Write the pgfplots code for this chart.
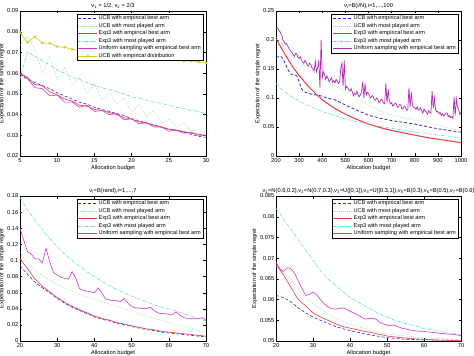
\documentclass[border=0pt]{standalone}
\usepackage{pgfplots}
\pgfplotsset{compat=1.18}
\usepackage{fontspec}
\setmainfont{Liberation Sans}
\definecolor{cB}{rgb}{0.15,0.15,0.9}
\definecolor{cG}{rgb}{0.55,0.88,0.55}
\definecolor{cR}{rgb}{0.95,0.2,0.25}
\definecolor{cC}{rgb}{0.35,0.85,0.85}
\definecolor{cM}{rgb}{0.82,0.2,0.82}
\definecolor{cY}{rgb}{0.82,0.82,0.15}
\pgfplotsset{
  every axis title shift=0pt,
  myax/.style={
    scale only axis, anchor=south west,
    font=\fontsize{5.7}{6.5}\selectfont,
    /pgf/number format/assume math mode=true,
    /pgf/number format/1000 sep={},
    tick align=inside, major tick length=2.5pt,
    tick style={black, line width=0.3pt},
    axis line style={line width=0.4pt},
    scaled y ticks=false,
    yticklabel style={/pgf/number format/fixed,/pgf/number format/precision=3, inner sep=1.5pt},
    xticklabel style={inner sep=1.5pt, yshift=-1pt},
    xlabel={Allocation budget}, ylabel={Expectation of the simple regret},
    xlabel style={inner sep=1pt},
    ylabel style={inner sep=1pt},
    title style={at={(0.5,1)}, anchor=south, inner sep=1pt, yshift=1pt},
    legend cell align=left,
    legend style={at={(0.985,0.98)}, anchor=north east, draw=black, line width=0.6pt,
      font=\fontsize{5.6}{6}\selectfont, inner xsep=1pt, inner ysep=0.5pt,
      nodes={inner sep=1pt}},
    legend image code/.code={\draw[mark repeat=2,mark phase=2,##1] plot coordinates {(0cm,0cm) (0.33cm,0cm) (0.66cm,0cm)};},
  },
  sB/.style={cB, line width=0.6pt, dash pattern=on 3pt off 2pt},
  sG/.style={cG, line width=0.6pt, dash pattern=on 0.7pt off 1.3pt},
  sR/.style={cR, line width=0.6pt},
  sC/.style={cC, line width=0.6pt, dash pattern=on 3pt off 1.3pt on 0.7pt off 1.3pt},
  sM/.style={cM, line width=0.6pt},
}
\begin{document}
\begin{tikzpicture}[x=1pt,y=1pt]
\path[use as bounding box] (0,0) rectangle (474,356);
% ---------------- top left
\begin{axis}[myax, at={(20pt,200pt)}, width=186pt, height=145pt,
  xmin=5, xmax=30, ymin=0.02, ymax=0.09,
  xtick={5,10,...,30}, ytick={0.02,0.03,...,0.09},
  title={ν\textsubscript{1} = 1/2, ν\textsubscript{2} = 2/3}]
\addplot[sB] coordinates {(5,0.0595)(6,0.057)(7,0.0555)(8,0.054)(9,0.0525)(10,0.0505)(11,0.049)(12,0.0475)(13,0.046)(14,0.045)(15,0.0435)(16,0.0425)(17,0.0415)(18,0.0405)(19,0.0395)(20,0.038)(21,0.037)(22,0.036)(23,0.035)(24,0.034)(25,0.033)(26,0.0325)(27,0.0315)(28,0.0305)(29,0.0295)(30,0.029)};
\addlegendentry{UCB with empirical best arm}
\addplot[sG] coordinates {(5,0.0735)(6,0.078)(7,0.072)(8,0.060)(9,0.068)(10,0.057)(11,0.063)(12,0.054)(13,0.058)(14,0.050)(15,0.055)(16,0.047)(17,0.051)(18,0.045)(19,0.048)(20,0.041)(21,0.045)(22,0.039)(23,0.042)(24,0.036)(25,0.038)(26,0.034)(27,0.036)(28,0.032)(29,0.033)(30,0.031)};
\addlegendentry{UCB with most played arm}
\addplot[sR] coordinates {(5,0.060)(6,0.058)(7,0.0545)(8,0.054)(9,0.051)(10,0.0495)(11,0.0475)(12,0.0465)(13,0.0445)(14,0.044)(15,0.0425)(16,0.042)(17,0.041)(18,0.040)(19,0.0385)(20,0.0378)(21,0.0365)(22,0.036)(23,0.0348)(24,0.034)(25,0.033)(26,0.0325)(27,0.0318)(28,0.031)(29,0.0305)(30,0.030)};
\addlegendentry{Exp3 with empirical best arm}
\addplot[sC] coordinates {(5,0.057)(6,0.0705)(7,0.068)(8,0.066)(9,0.064)(10,0.0615)(11,0.060)(12,0.058)(13,0.057)(14,0.0555)(15,0.054)(16,0.053)(17,0.052)(18,0.051)(19,0.050)(20,0.0485)(21,0.048)(22,0.047)(23,0.046)(24,0.0455)(25,0.0445)(26,0.0435)(27,0.043)(28,0.042)(29,0.0415)(30,0.040)};
\addlegendentry{Exp3 with most played arm}
\addplot[sM] coordinates {(5,0.0595)(6,0.0575)(7,0.053)(8,0.0525)(9,0.049)(10,0.0495)(11,0.046)(12,0.046)(13,0.0435)(14,0.0445)(15,0.0415)(16,0.042)(17,0.040)(18,0.0405)(19,0.0375)(20,0.038)(21,0.0355)(22,0.036)(23,0.034)(24,0.034)(25,0.032)(26,0.0325)(27,0.031)(28,0.0315)(29,0.030)(30,0.030)};
\addlegendentry{Uniform sampling with empirical best arm}
\addplot[cY, line width=0.7pt, mark=*, mark size=1pt, mark options={solid}] coordinates {(5,0.0797)(6,0.0749)(7,0.0776)(8,0.0746)(9,0.0744)(10,0.0728)(11,0.0725)(12,0.0715)(13,0.0709)(14,0.0703)(15,0.0696)(16,0.0691)(17,0.0687)(18,0.0683)(19,0.0678)(20,0.0675)(21,0.0672)(22,0.0671)(23,0.0664)(24,0.0671)(25,0.0669)(26,0.0669)(27,0.0658)(28,0.0658)(29,0.0654)(30,0.0648)};
\addlegendentry{UCB with empirical distribution}
\end{axis}
% ---------------- top right
\begin{axis}[myax, at={(276pt,200pt)}, width=185pt, height=145pt,
  xmin=200, xmax=1000, ymin=0, ymax=0.25,
  xtick={200,300,...,1000}, ytick={0,0.05,...,0.25},
  title={ν\textsubscript{i}=B(i/N),i=1,...,100}]
\addplot[sB, line width=0.8pt] coordinates {(200,0.170)(210,0.171)(220,0.172)(230,0.168)(240,0.160)(250,0.150)(260,0.143)(270,0.140)(280,0.140)(290,0.138)(300,0.128)(310,0.116)(320,0.111)(340,0.108)(360,0.106)(380,0.105)(400,0.103)(420,0.100)(440,0.098)(460,0.096)(480,0.092)(500,0.088)(520,0.084)(540,0.081)(560,0.077)(580,0.074)(600,0.070)(625,0.068)(650,0.065)(675,0.063)(700,0.061)(750,0.058)(800,0.055)(850,0.051)(900,0.047)(950,0.044)(1000,0.041)};
\addlegendentry{UCB with empirical best arm}
\addplot[sG] coordinates {(200,0.205)(225,0.193)(250,0.180)(275,0.170)(300,0.162)(325,0.155)(350,0.148)(375,0.142)(400,0.135)(425,0.128)(450,0.122)(475,0.117)(500,0.112)(550,0.100)(600,0.088)(650,0.078)(700,0.070)(750,0.066)(800,0.062)(850,0.058)(900,0.053)(950,0.048)(1000,0.044)};
\addlegendentry{UCB with most played arm}
\addplot[sR, line width=1pt] coordinates {(200,0.202)(225,0.185)(250,0.168)(275,0.152)(300,0.139)(325,0.127)(350,0.116)(375,0.106)(400,0.097)(450,0.083)(500,0.072)(550,0.063)(600,0.055)(650,0.049)(700,0.044)(750,0.040)(800,0.036)(850,0.032)(900,0.029)(950,0.026)(1000,0.023)};
\addlegendentry{Exp3 with empirical best arm}
\addplot[sC] coordinates {(200,0.125)(225,0.115)(250,0.107)(275,0.100)(300,0.095)(350,0.085)(400,0.077)(450,0.070)(500,0.064)(550,0.059)(600,0.055)(650,0.051)(700,0.048)(750,0.044)(800,0.041)(850,0.039)(900,0.036)(950,0.034)(1000,0.031)};
\addlegendentry{Exp3 with most played arm}
\addplot[sM, line width=0.7pt, cM!85!black] coordinates {(200,0.220)(205,0.222)(210,0.218)(215,0.216)(220,0.212)(225,0.208)(230,0.200)(235,0.197)(240,0.193)(245,0.194)(250,0.190)(255,0.186)(260,0.183)(265,0.180)(270,0.178)(275,0.174)(280,0.172)(285,0.177)(290,0.176)(295,0.170)(300,0.168)(305,0.171)(310,0.165)(315,0.162)(320,0.160)(325,0.165)(330,0.162)(335,0.157)(340,0.155)(345,0.160)(350,0.158)(355,0.152)(360,0.150)(365,0.147)(370,0.163)(375,0.145)(380,0.152)(385,0.165)(390,0.118)(395,0.200)(400,0.135)(405,0.145)(410,0.140)(415,0.132)(420,0.138)(425,0.134)(430,0.128)(435,0.131)(440,0.135)(445,0.127)(450,0.130)(455,0.126)(460,0.132)(465,0.129)(470,0.125)(475,0.128)(480,0.150)(485,0.160)(490,0.120)(495,0.165)(500,0.115)(505,0.120)(510,0.118)(515,0.114)(520,0.112)(525,0.116)(530,0.110)(535,0.104)(540,0.108)(545,0.106)(550,0.112)(555,0.105)(560,0.102)(565,0.106)(570,0.110)(575,0.128)(580,0.100)(585,0.125)(590,0.105)(595,0.110)(600,0.108)(605,0.103)(610,0.100)(615,0.104)(620,0.103)(625,0.097)(630,0.096)(635,0.100)(640,0.098)(645,0.092)(650,0.094)(655,0.098)(660,0.096)(665,0.091)(670,0.090)(675,0.125)(680,0.092)(685,0.115)(690,0.095)(695,0.090)(700,0.092)(705,0.086)(710,0.088)(715,0.091)(720,0.090)(725,0.084)(730,0.085)(735,0.089)(740,0.087)(745,0.081)(750,0.082)(755,0.086)(760,0.084)(765,0.079)(770,0.080)(775,0.118)(780,0.085)(785,0.110)(790,0.088)(795,0.084)(800,0.083)(805,0.080)(810,0.085)(815,0.079)(820,0.080)(825,0.083)(830,0.078)(835,0.074)(840,0.081)(845,0.077)(850,0.076)(855,0.072)(860,0.078)(865,0.075)(870,0.074)(875,0.112)(880,0.082)(885,0.100)(890,0.080)(895,0.076)(900,0.077)(905,0.073)(910,0.075)(915,0.070)(920,0.073)(925,0.069)(930,0.071)(935,0.074)(940,0.074)(945,0.068)(950,0.070)(955,0.066)(960,0.068)(965,0.065)(970,0.102)(975,0.070)(980,0.098)(985,0.085)(990,0.080)(995,0.072)(1000,0.075)};
\addlegendentry{Uniform sampling with empirical best arm}
\end{axis}
% ---------------- bottom left
\begin{axis}[myax, at={(20pt,15pt)}, width=186pt, height=145pt,
  xmin=20, xmax=70, ymin=0, ymax=0.18,
  xtick={20,30,...,70}, ytick={0,0.02,...,0.18},
  title={ν\textsubscript{i}=B(rand),i=1,...,7}]
\addplot[sB] coordinates {(20,0.093)(22,0.083)(24,0.073)(26,0.066)(28,0.060)(30,0.053)(32,0.047)(34,0.042)(36,0.038)(38,0.034)(40,0.030)(42,0.027)(44,0.025)(46,0.022)(48,0.020)(50,0.018)(52,0.016)(54,0.014)(56,0.013)(58,0.011)(60,0.010)(62,0.009)(64,0.008)(66,0.007)(68,0.006)(70,0.005)};
\addlegendentry{UCB with empirical best arm}
\addplot[sG] coordinates {(20,0.110)(22,0.097)(24,0.088)(26,0.081)(28,0.076)(30,0.070)(32,0.066)(34,0.062)(36,0.058)(38,0.055)(40,0.052)(42,0.049)(44,0.046)(46,0.043)(48,0.040)(50,0.037)(52,0.034)(54,0.031)(56,0.028)(58,0.026)(60,0.023)(62,0.020)(64,0.018)(66,0.016)(68,0.013)(70,0.011)};
\addlegendentry{UCB with most played arm}
\addplot[sR] coordinates {(20,0.102)(22,0.090)(24,0.077)(26,0.068)(28,0.061)(30,0.054)(32,0.048)(34,0.043)(36,0.039)(38,0.035)(40,0.031)(42,0.028)(44,0.026)(46,0.023)(48,0.021)(50,0.019)(52,0.017)(54,0.015)(56,0.014)(58,0.012)(60,0.011)(62,0.010)(64,0.009)(66,0.008)(68,0.007)(70,0.006)};
\addlegendentry{Exp3 with empirical best arm}
\addplot[sC] coordinates {(20,0.178)(22,0.163)(24,0.150)(26,0.138)(28,0.127)(30,0.117)(32,0.108)(34,0.100)(36,0.093)(38,0.086)(40,0.080)(42,0.074)(44,0.069)(46,0.064)(48,0.060)(50,0.056)(52,0.052)(54,0.049)(56,0.045)(58,0.042)(60,0.040)(62,0.037)(64,0.034)(66,0.031)(68,0.028)(70,0.025)};
\addlegendentry{Exp3 with most played arm}
\addplot[sM] coordinates {(20,0.140)(21,0.125)(22,0.111)(23,0.108)(24,0.102)(25,0.102)(26,0.097)(27,0.115)(28,0.098)(29,0.085)(30,0.082)(31,0.079)(32,0.078)(33,0.077)(34,0.086)(35,0.078)(36,0.065)(37,0.063)(38,0.062)(39,0.061)(40,0.060)(41,0.066)(42,0.060)(43,0.052)(44,0.051)(45,0.050)(46,0.050)(47,0.049)(48,0.053)(49,0.047)(50,0.043)(51,0.041)(52,0.041)(53,0.040)(54,0.040)(55,0.042)(56,0.038)(57,0.035)(58,0.034)(59,0.034)(60,0.033)(61,0.033)(62,0.036)(63,0.032)(64,0.029)(65,0.028)(66,0.028)(67,0.028)(68,0.028)(69,0.029)(70,0.026)};
\addlegendentry{Uniform sampling with empirical best arm}
\end{axis}
% ---------------- bottom right
\begin{axis}[myax, at={(276pt,15pt)}, width=185pt, height=145pt,
  xmin=20, xmax=70, ymin=0.05, ymax=0.085,
  xtick={20,30,...,70}, ytick={0.05,0.055,...,0.086},
  title={ν\textsubscript{1}=N(0.6,0.2),ν\textsubscript{2}=N(0.7,0.3),ν\textsubscript{3}=U([0,1]),ν\textsubscript{4}=U([0.3,1]),ν\textsubscript{5}=B(0.3),ν\textsubscript{6}=B(0.5),ν\textsubscript{7}=B(0.6)}]
\addplot[sB] coordinates {(20,0.061)(22,0.0605)(24,0.0595)(26,0.058)(28,0.0568)(30,0.0558)(32,0.055)(34,0.0543)(36,0.0535)(38,0.053)(40,0.0525)(42,0.0521)(44,0.0517)(46,0.0514)(48,0.0511)(50,0.0508)(55,0.0504)(60,0.0503)(65,0.0502)(70,0.0502)};
\addlegendentry{UCB with empirical best arm}
\addplot[sG] coordinates {(20,0.068)(22,0.0665)(24,0.065)(26,0.0625)(28,0.0605)(30,0.059)(32,0.0578)(34,0.0565)(36,0.0555)(38,0.0548)(40,0.054)(42,0.0535)(44,0.0529)(46,0.0524)(48,0.052)(50,0.0517)(55,0.0512)(60,0.0508)(65,0.0505)(70,0.0503)};
\addlegendentry{UCB with most played arm}
\addplot[sR] coordinates {(20,0.0685)(22,0.066)(24,0.063)(26,0.060)(28,0.0585)(30,0.0568)(32,0.0558)(34,0.055)(36,0.0542)(38,0.0535)(40,0.0531)(42,0.0527)(44,0.0523)(46,0.052)(48,0.0516)(50,0.0512)(52,0.051)(54,0.0508)(56,0.0506)(58,0.0505)(60,0.0504)(62,0.0503)(64,0.0502)(66,0.0502)(68,0.0501)(70,0.0501)};
\addlegendentry{Exp3 with empirical best arm}
\addplot[sC] coordinates {(20,0.082)(22,0.0795)(24,0.077)(26,0.0745)(28,0.072)(30,0.0695)(32,0.067)(34,0.065)(36,0.0635)(38,0.062)(40,0.0605)(42,0.0595)(44,0.0585)(46,0.0575)(48,0.0565)(50,0.0558)(52,0.055)(54,0.0545)(56,0.054)(58,0.0536)(60,0.053)(62,0.0527)(64,0.0523)(66,0.052)(68,0.0518)(70,0.0515)};
\addlegendentry{Exp3 with most played arm}
\addplot[sM] coordinates {(20,0.069)(21,0.0675)(22,0.0668)(23,0.0677)(24,0.0675)(25,0.0664)(26,0.0645)(27,0.0627)(28,0.061)(29,0.0612)(30,0.0618)(31,0.0612)(32,0.060)(33,0.059)(34,0.0583)(35,0.0578)(36,0.0577)(37,0.0578)(38,0.058)(39,0.0577)(40,0.0572)(42,0.0563)(44,0.0553)(46,0.0555)(47,0.0553)(48,0.0545)(50,0.0538)(52,0.0538)(54,0.0531)(56,0.0527)(58,0.0524)(60,0.0523)(62,0.0521)(64,0.0519)(66,0.0517)(68,0.0516)(70,0.0513)};
\addlegendentry{Uniform sampling with empirical best arm}
\end{axis}
\end{tikzpicture}
\end{document}
